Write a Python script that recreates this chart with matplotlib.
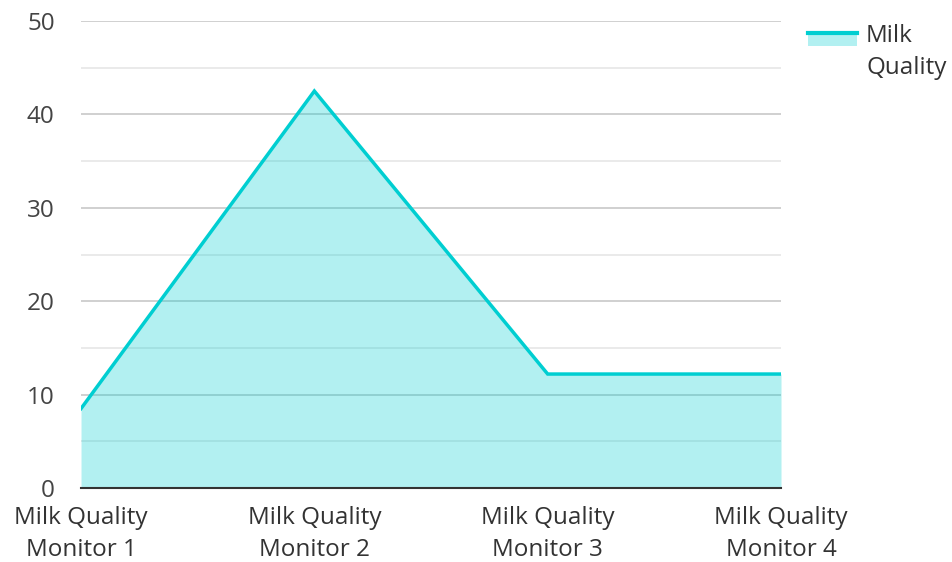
import matplotlib.pyplot as plt
from matplotlib.patches import Rectangle
from matplotlib.lines import Line2D

plt.rcParams['font.family'] = ['Open Sans', 'DejaVu Sans']

categories = ['Milk Quality\nMonitor 1', 'Milk Quality\nMonitor 2',
              'Milk Quality\nMonitor 3', 'Milk Quality\nMonitor 4']
values = [8.5, 42.5, 12.2, 12.2]
series_name = 'Milk\nQuality'
y_ticks = [0, 10, 20, 30, 40, 50]

line_color = '#00CED1'

fig = plt.figure(figsize=(9.52, 5.62), dpi=100)
ax = fig.add_axes([0.0851, 0.1317, 0.7353, 0.8309])

x = range(len(categories))
ax.fill_between(x, values, 0, color=line_color, alpha=0.3, linewidth=0, zorder=2)
ax.plot(x, values, color=line_color, linewidth=2.5, zorder=3, solid_joinstyle='miter')

ax.set_xlim(0, len(categories) - 1)
ax.set_ylim(0, 50)
ax.set_yticks(y_ticks)
ax.set_yticks([5, 15, 25, 35, 45], minor=True)
ax.set_xticks(list(x))
ax.set_xticklabels(categories, fontsize=17.5, color='#333333', linespacing=1.45)
ax.tick_params(axis='y', labelsize=17.5, labelcolor='#444444', length=0, pad=19)
ax.tick_params(axis='y', which='minor', length=0)
ax.tick_params(axis='x', length=0, pad=13)

ax.grid(axis='y', which='major', color='#C8C8C8', linewidth=1.2, zorder=1)
ax.grid(axis='y', which='minor', color='#E6E6E6', linewidth=1.2, zorder=1)
ax.set_axisbelow(True)

for s in ['top', 'right', 'left']:
    ax.spines[s].set_visible(False)
ax.spines['bottom'].set_color('#333333')
ax.spines['bottom'].set_linewidth(1.5)
ax.spines['bottom'].set_zorder(4)

# legend drawn by hand: fill patch with the line on its top edge
fig.add_artist(Rectangle((0.8487, 0.9181), 0.0515, 0.0232, transform=fig.transFigure,
                         facecolor=line_color, alpha=0.3, linewidth=0))
fig.add_artist(Line2D([0.8487, 0.9002], [0.9413, 0.9413], transform=fig.transFigure,
                      color=line_color, linewidth=3))
fig.text(0.9097, 0.957, series_name, fontsize=17.5, color='#333333', va='top', ha='left',
         linespacing=1.45)

fig.savefig('out.png', dpi=100)
